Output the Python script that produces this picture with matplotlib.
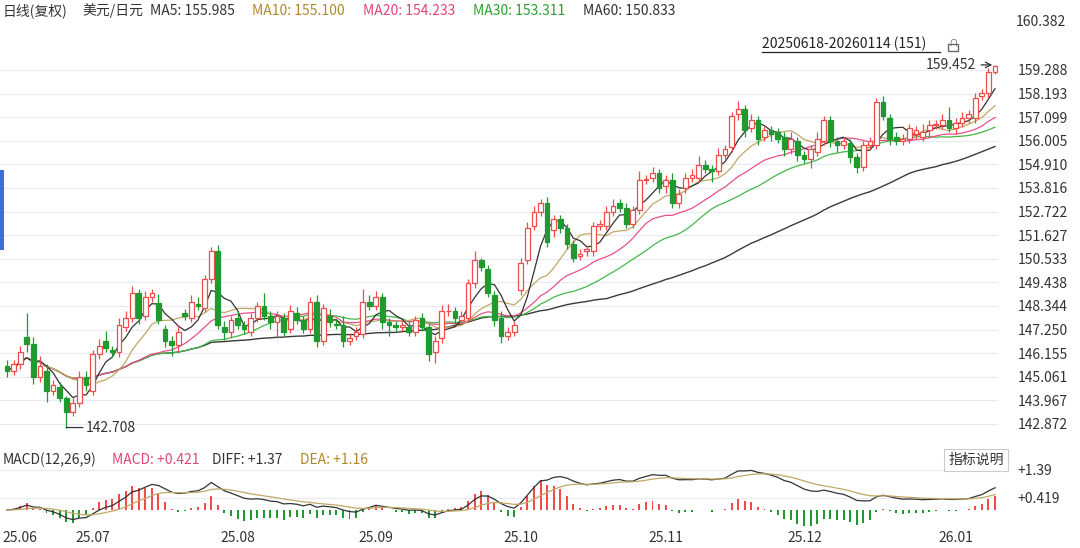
import matplotlib
matplotlib.use("Agg")
import matplotlib.pyplot as plt
from matplotlib.patches import Rectangle
import numpy as np
import pandas as pd

plt.rcParams['font.family'] = ['Noto Sans CJK SC', 'DejaVu Sans']

opens = [145.54,145.34,145.64,146.92,146.6,145.03,145.34,144.4,144.6,144.08,
         143.44,143.86,145.03,144.4,146.1,146.7,146.3,146.2,147.37,147.8,
         148.95,147.9,148.75,148.5,147.27,146.74,146.53,148.0,147.8,148.45,
         148.25,149.6,150.9,147.37,147.16,147.8,147.47,147.16,147.8,148.34,
         147.9,147.58,147.8,147.27,148.0,147.7,147.27,148.55,146.74,147.9,
         147.53,147.47,146.74,146.95,147.06,148.55,148.34,148.75,147.58,147.47,
         147.37,147.37,147.16,147.8,147.37,146.2,146.85,148.1,148.1,147.7,
         147.8,149.4,150.47,150.05,148.85,147.8,146.95,147.16,149.07,150.47,
         152.05,152.7,153.1,151.85,152.38,151.95,151.2,150.67,150.88,150.88,
         152.05,152.05,152.7,153.1,152.9,152.15,152.8,154.2,154.3,154.5,
         153.9,154.2,153.1,153.8,154.3,154.3,154.9,154.7,154.6,155.35,
         155.7,157.25,157.47,156.6,156.95,156.2,156.5,156.4,156.2,155.6,
         156.0,155.35,155.15,155.5,156.0,156.95,156.0,155.8,155.9,155.25,
         154.8,155.8,155.8,157.8,157.05,156.2,156.0,156.1,156.3,156.2,
         156.5,156.75,156.75,156.95,156.6,156.85,157.05,157.05,158.1,158.2,
         159.2]
closes = [145.34,145.64,146.2,146.6,145.03,145.54,144.4,144.7,144.08,143.44,
          143.86,145.03,144.7,146.1,146.5,146.4,146.2,147.47,147.8,148.95,
          147.8,148.75,148.95,147.7,146.74,146.53,147.16,147.9,148.55,148.35,
          149.6,150.9,147.47,147.16,147.7,147.47,147.26,147.8,148.34,147.9,
          147.58,147.9,147.16,148.1,147.7,147.27,148.55,146.74,148.23,147.58,
          147.47,146.74,146.85,147.16,148.55,148.34,148.75,147.58,147.47,147.37,
          147.47,147.16,147.7,147.37,146.1,146.74,148.1,148.12,147.8,147.9,
          149.4,150.47,150.15,148.95,147.7,146.95,147.16,147.47,150.35,151.95,
          152.7,153.1,151.3,152.38,151.95,151.2,150.56,150.77,150.98,152.05,
          152.15,152.7,153.0,152.9,152.15,152.8,154.2,154.22,154.5,153.8,
          154.2,153.1,153.55,154.3,154.4,154.9,154.7,154.6,155.35,155.6,
          157.15,157.47,156.5,156.95,156.1,156.5,156.3,156.1,155.6,156.1,
          155.35,155.15,155.6,156.1,156.95,156.0,155.8,156.0,155.25,154.8,
          155.8,156.0,157.8,157.15,156.1,156.0,156.1,156.6,156.5,156.4,
          156.75,156.77,156.95,156.6,156.85,157.05,157.25,158.0,158.2,159.2,
          159.45]
up_wick = [0.3,0.2,0.3,1.1,0.3,0.5,0.3,0.2,0.2,0.1,
           0.2,0.3,0.3,0.2,0.3,0.5,0.2,0.3,0.3,0.3,
           0.2,0.3,0.2,0.4,0.2,0.2,0.3,0.2,0.3,0.3,
           0.2,0.2,0.25,0.3,0.2,0.3,0.2,0.2,0.2,0.6,
           0.2,0.2,0.2,0.3,0.3,0.2,0.2,0.3,0.2,0.3,
           0.2,0.4,0.2,0.2,0.6,0.3,0.3,0.2,0.2,0.2,
           0.2,0.3,0.2,0.2,0.2,0.2,0.3,0.3,0.2,0.2,
           0.2,0.4,0.1,0.2,0.2,0.3,0.2,0.2,0.2,0.3,
           0.3,0.2,0.3,0.2,0.2,0.2,0.2,0.2,0.2,0.2,
           0.2,0.3,0.3,0.2,0.2,0.2,0.4,0.2,0.3,0.2,
           0.2,0.3,0.2,0.2,0.3,0.4,0.2,0.2,0.3,0.2,
           0.2,0.4,0.2,0.3,0.2,0.2,0.2,0.2,0.2,0.3,
           0.2,0.2,0.2,0.3,0.2,0.2,0.2,0.2,0.2,0.2,
           0.2,0.2,0.2,0.3,0.2,0.2,0.2,0.2,0.2,0.4,
           0.2,0.2,0.3,0.6,0.2,0.3,0.2,0.2,0.2,0.2,
           0.05]
dn_wick = [0.3,0.2,0.2,0.4,0.3,0.2,0.5,0.2,0.2,0.73,
           0.2,0.2,0.3,0.2,0.2,0.2,0.2,0.2,0.2,0.2,
           0.3,0.2,0.2,0.2,0.3,0.5,0.3,0.2,0.2,0.2,
           0.2,0.2,0.2,0.4,0.3,0.2,0.2,0.2,0.2,0.2,
           0.3,0.7,0.2,0.2,0.2,0.2,0.2,0.3,0.2,0.2,
           0.2,0.3,0.2,0.2,0.2,0.2,0.2,0.3,0.5,0.2,
           0.2,0.2,0.2,0.2,0.3,0.5,0.2,0.2,0.3,0.2,
           0.2,0.2,0.2,0.2,0.3,0.3,0.2,0.2,0.2,0.2,
           0.2,0.2,0.2,0.3,0.2,0.2,0.2,0.2,0.2,0.2,
           0.2,0.2,0.2,0.2,0.2,0.2,0.2,0.2,0.2,0.2,
           0.3,0.2,0.2,0.2,0.2,0.2,0.2,0.5,0.2,0.2,
           0.2,0.3,0.3,0.2,0.3,0.2,0.3,0.2,0.3,0.2,
           0.3,0.2,0.4,0.2,0.2,0.3,0.3,0.2,0.3,0.3,
           0.2,0.2,0.2,0.2,0.3,0.2,0.2,0.2,0.2,0.2,
           0.3,0.2,0.2,0.2,0.3,0.2,0.2,0.2,0.2,0.2,
           0.1]

price_ticks = [142.872,143.967,145.061,146.155,147.250,148.344,149.438,150.533,
               151.627,152.722,153.816,154.910,156.005,157.099,158.193,159.288]
date_pos = [2,13,35,56,78,100,121,144]
date_labels = ['25.06','25.07','25.08','25.09','25.10','25.11','25.12','26.01']

RED = '#f24b4b'
GREEN = '#1f9a2f'
FS = 10
n = len(closes)
x = np.arange(n)
o = np.array(opens); c = np.array(closes)
hi = np.maximum(o, c) + np.array(up_wick)
lo = np.minimum(o, c) - np.array(dn_wick)
lo[9] = 142.708
hi[-1] = 159.5

fig = plt.figure(figsize=(10.8, 5.48), dpi=100)
ax = fig.add_axes([0.0, 1-440/548, 998/1080, (440-22)/548])
ax.set_xlim(-1.06, 150.45)
ax.set_ylim(142.13, 161.51)
for t in price_ticks:
    ax.axhline(t, color='#e9e9f2', lw=0.8, zorder=0)

s = pd.Series(c)
ma_cfg = [(60,'#3a3a3a',1.0),(30,'#45b848',0.9),(20,'#e8508a',0.9),(10,'#c2a865',0.9),(5,'#333333',0.9)]
for w, col, lw in ma_cfg:
    ax.plot(x, s.rolling(w, min_periods=1).mean(), color=col, lw=lw, zorder=2)

bw = 0.72
for i in range(n):
    up = c[i] >= o[i]
    col = RED if up else GREEN
    ax.vlines(i, lo[i], hi[i], color=col, lw=0.9, zorder=3)
    b0 = min(o[i], c[i]); h = max(abs(c[i]-o[i]), 0.03)
    ax.add_patch(Rectangle((i-bw/2, b0), bw, h, facecolor='white' if up else col,
                           edgecolor=col, lw=0.9, zorder=4))

ax.yaxis.tick_right()
ax.set_yticks(price_ticks)
ax.set_yticklabels([f'{t:.3f}' for t in price_ticks], fontsize=FS, color='#333333')
ax.tick_params(axis='y', length=0, pad=14)
ax.set_xticks([])
for sp in ax.spines.values():
    sp.set_visible(False)
fig.text(1016/1080, 1-22/548, '160.382', fontsize=FS, color='#333333', va='center')

ax.annotate('142.708', xy=(9, 142.708), xytext=(14, 0), textcoords='offset points',
            fontsize=FS, color='#333333', va='center',
            arrowprops=dict(arrowstyle='-', color='#333333', lw=0.9, shrinkA=0, shrinkB=0))
ax.annotate('159.452', xy=(150, 159.52), xytext=(-14, 0), textcoords='offset points',
            fontsize=FS, color='#333333', va='center', ha='right',
            arrowprops=dict(arrowstyle='->', color='#333333', lw=0.9, shrinkA=2, shrinkB=2))
fig.text(762/1080, 1-44/548, '20250618-20260114 (151)', fontsize=FS, color='#222222', va='center')
fig.add_artist(plt.Line2D([762/1080, 940/1080], [1-52/548]*2, color='#222222', lw=0.9))
fig.add_artist(Rectangle((948/1080, 1-51/548), 10/1080, 7/548, facecolor='none', edgecolor='#666666', lw=1))
fig.text(953/1080, 1-43/548, '∩', fontsize=7, color='#666666', ha='center', va='center')

hdr = [(3,'日线(复权)','#333333'),(82,'美元/日元','#333333'),(150,'MA5: 155.985','#333333'),
       (252,'MA10: 155.100','#b08a2a'),(363,'MA20: 154.233','#e0457b'),
       (473,'MA30: 153.311','#2ca02c'),(583,'MA60: 150.833','#333333')]
for px, t, col in hdr:
    fig.text(px/1080, 1-11/548, t, fontsize=FS, color=col, va='center')

# MACD
ema12 = s.ewm(span=12, adjust=False).mean()
ema26 = s.ewm(span=26, adjust=False).mean()
diff = ema12 - ema26
dea = diff.ewm(span=9, adjust=False).mean()
macd = 2*(diff - dea)
mx = fig.add_axes([0.0, 1-527/548, 998/1080, 77/548])
mx.set_xlim(-1.06, 150.45)
mx.set_ylim(-0.59, 2.08)
mx.bar(x, macd, width=0.3, color=[RED if v >= 0 else GREEN for v in macd], zorder=2)
mx.plot(x, diff, color='#333333', lw=0.9, zorder=3)
mx.plot(x, dea, color='#c2a865', lw=0.9, zorder=3)
mx.axhline(1.39, color='#e9e9f2', lw=0.8, zorder=0)
mx.axhline(0.419, color='#e9e9f2', lw=0.8, zorder=0)
mx.yaxis.tick_right()
mx.set_yticks([1.39, 0.419])
mx.set_yticklabels(['+1.39', '+0.419'], fontsize=FS, color='#333333')
mx.tick_params(axis='y', length=0, pad=14)
mx.set_xticks([])
for sp in mx.spines.values():
    sp.set_visible(False)
mh = [(3,'MACD(12,26,9)','#333333'),(112,'MACD: +0.421','#e0457b'),
      (212,'DIFF: +1.37','#333333'),(300,'DEA: +1.16','#b08a2a')]
for px, t, col in mh:
    fig.text(px/1080, 1-460/548, t, fontsize=FS, color=col, va='center')
fig.text(976/1080, 1-460/548, '指标说明', fontsize=FS, color='#333333', va='center', ha='center',
         bbox=dict(boxstyle='square,pad=0.3', facecolor='white', edgecolor='#cccccc', lw=0.8))

for p, l in zip(date_pos, date_labels):
    fig.text((7+6.59*p)/1080, 1-538/548, l, fontsize=FS, color='#333333', ha='center', va='center')

fig.add_artist(Rectangle((0, 1-250/548), 4/1080, 80/548, facecolor='#3b6fd8', edgecolor='none'))
fig.savefig('out.png', dpi=100, facecolor='white')
